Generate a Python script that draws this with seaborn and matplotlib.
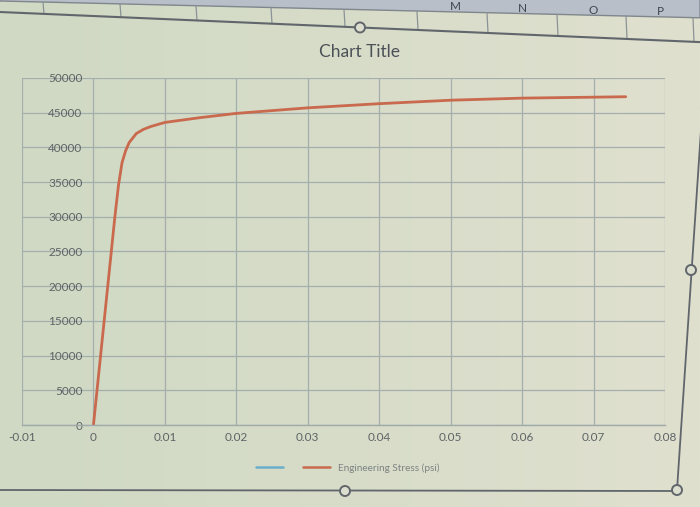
import numpy as np
import pandas as pd
import matplotlib
matplotlib.use("Agg")
import matplotlib.pyplot as plt
import seaborn as sns
from matplotlib.lines import Line2D
from matplotlib.patches import Polygon, Circle
from matplotlib.colors import to_rgb

# ---------------- data ----------------
strain = [0, 0.0005, 0.001, 0.0015, 0.002, 0.0025, 0.003, 0.0035, 0.004,
          0.0045, 0.005, 0.006, 0.007, 0.008, 0.010, 0.015, 0.020, 0.030,
          0.040, 0.050, 0.060, 0.0745]
stress = [0, 5000, 10000, 15000, 20000, 25000, 30000, 34500, 37800,
          39500, 40700, 42000, 42600, 43000, 43600, 44300, 44900, 45700,
          46300, 46800, 47100, 47300]
x_ticks = [-0.01, 0, 0.01, 0.02, 0.03, 0.04, 0.05, 0.06, 0.07, 0.08]
x_tick_labels = ["-0.01", "0", "0.01", "0.02", "0.03", "0.04", "0.05",
                 "0.06", "0.07", "0.08"]
y_ticks = [0, 5000, 10000, 15000, 20000, 25000, 30000, 35000, 40000,
           45000, 50000]
y_tick_labels = ["0", "5000", "10000", "15000", "20000", "25000", "30000",
                 "35000", "40000", "45000", "50000"]
series_labels = ["", "Engineering Stress (psi)"]
column_letters = ["M", "N", "O", "P"]
chart_title = "Chart Title"

# ---------------- style ----------------
sns.set_theme(style="white")
plt.rcParams['font.family'] = ['Lato', 'DejaVu Sans']

W, H = 700, 507
fig = plt.figure(figsize=(7, 5.07), dpi=100)

# background layer (photo of spreadsheet)
bg = fig.add_axes([0, 0, 1, 1], zorder=0)
c_left = np.array(to_rgb('#cfd9c3'))
c_right = np.array(to_rgb('#e0e0cf'))
t = np.linspace(0, 1, 256)
grad = (c_left[None, :] * (1 - t)[:, None] + c_right[None, :] * t[:, None])[None, :, :]
bg.imshow(grad, extent=[0, W, H, 0], aspect='auto', zorder=0)
bg.set_xlim(0, W)
bg.set_ylim(H, 0)
bg.axis('off')

def y_head(x):
    return 1 + 0.024 * x

def y_frame(x):
    return 12 + 0.043 * x

# header band
bg.add_patch(Polygon([(0, -30), (W, -30), (W, y_head(W)), (0, y_head(0))],
                     closed=True, facecolor='#b9bfc8', edgecolor='#7f868c',
                     lw=1.0, zorder=1))
# cell row lines
for cx in [43, 120, 196, 271, 344, 417, 487, 557, 626, 693]:
    bg.plot([cx, cx + 1], [y_head(cx), y_frame(cx)], color='#8c9398', lw=0.9, zorder=1)
# column letters
for letter, lx in zip(column_letters, [455, 522, 593, 660]):
    bg.text(lx, y_head(lx) - 5, letter, ha='center', va='center', fontsize=8.5,
            color='#3c4450', zorder=2)

# chart frame lines + handles
frame_c = '#60666b'
bg.plot([0, W], [y_frame(0), y_frame(W)], color=frame_c, lw=1.5, zorder=2)
bg.plot([701, 677], [130, 490], color=frame_c, lw=1.3, zorder=2)
bg.plot([0, 677], [490, 491], color=frame_c, lw=1.3, zorder=2)
for (hx, hy) in [(360, y_frame(360)), (691, 270), (345, 491), (677, 490)]:
    bg.add_patch(Circle((hx, hy), 5, facecolor='#dcdfcf', edgecolor=frame_c,
                        lw=1.4, zorder=3))

# ---------------- chart ----------------
ax = fig.add_axes([22 / W, 1 - 425 / H, (665 - 22) / W, (425 - 78) / H], zorder=2)
ax.set_facecolor('none')
df = pd.DataFrame({'strain': strain, 'stress': stress})
sns.lineplot(data=df, x='strain', y='stress', ax=ax, color='#c9694d', lw=2.0,
             sort=False, estimator=None, legend=False)
ax.set_xlim(-0.01, 0.08)
ax.set_ylim(0, 50000)
ax.set_xticks(x_ticks)
ax.set_xticklabels(x_tick_labels)
ax.set_yticks(y_ticks)
ax.set_yticklabels(y_tick_labels)
ax.spines['left'].set_position(('data', 0))
ax.spines['left'].set_visible(False)
ax.spines['top'].set_visible(False)
ax.spines['right'].set_visible(False)
ax.spines['bottom'].set_color('#a0aaaa')
ax.spines['bottom'].set_linewidth(1.0)
ax.grid(True, color='#a3aead', lw=0.9)
ax.set_axisbelow(True)
ax.tick_params(length=0, labelsize=8.5, colors='#5d6466')
ax.tick_params(axis='x', pad=5)
ax.tick_params(axis='y', pad=8)
ax.set_xlabel('')
ax.set_ylabel('')

fig.text(360 / W, 1 - 52 / H, chart_title, ha='center', va='center',
         fontsize=12.5, color='#4b5157')

handles = [Line2D([], [], color='#6aaecb', lw=1.8),
           Line2D([], [], color='#c9694d', lw=1.8)]
fig.legend(handles, series_labels, loc='center',
           bbox_to_anchor=(348 / W, 1 - 468 / H), ncol=2, frameon=False,
           fontsize=7.2, handlelength=2.7, handletextpad=0.8,
           columnspacing=1.2, labelcolor='#7d8383')

fig.savefig('out.png', dpi=100)
